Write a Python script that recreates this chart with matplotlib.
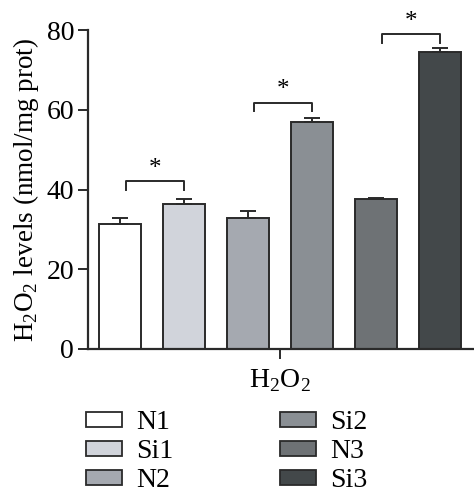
import matplotlib
matplotlib.use("Agg")
import matplotlib.pyplot as plt
from matplotlib.patches import Patch
import numpy as np

plt.rcParams['font.family'] = ['Liberation Serif', 'DejaVu Serif']
plt.rcParams['mathtext.fontset'] = 'custom'
plt.rcParams['mathtext.rm'] = 'Liberation Serif'

# datos
grupos = ['N1', 'Si1', 'N2', 'Si2', 'N3', 'Si3']
valores = [31.3, 36.3, 32.9, 56.9, 37.7, 74.4]
errores = [1.5, 1.4, 1.7, 1.1, 0.2, 1.2]
colores = ['#ffffff', '#d1d4db', '#a5a9b0', '#8a8f94', '#6e7275', '#43484a']
# pares con diferencia significativa (indices) y altura del corchete
pares = [(0, 1), (2, 3), (4, 5)]
altura_corchete = [42.1, 61.8, 79.0]

fig = plt.figure(figsize=(4.74, 4.96), dpi=100)
ax = fig.add_axes([88/474, 1 - 349/496, (474 - 88)/474, (349 - 30)/496])

x = np.arange(len(grupos))
ancho = 0.656
err_bajo = [0] * len(errores)
ax.bar(x, valores, width=ancho, color=colores, edgecolor='#2a2a2a', linewidth=1.4,
       yerr=[err_bajo, errores], capsize=6,
       error_kw={'elinewidth': 1.4, 'capthick': 1.4, 'ecolor': '#2a2a2a'})

# corchetes con asterisco
for (i, j), h in zip(pares, altura_corchete):
    x0 = x[i] + 0.1
    x1 = x[j]
    ax.plot([x0, x0, x1, x1], [h - 2.2, h, h, h - 2.2], color='#2a2a2a', lw=1.4)
    ax.text((x0 + x1) / 2, h + 0.3, '*', ha='center', va='bottom', fontsize=18)

ax.set_xlim(-0.5, 5.53)
ax.set_ylim(0, 80)
ax.set_yticks([0, 20, 40, 60, 80])
ax.set_xticks([x.mean()])
ax.set_xticklabels([r'H$_2$O$_2$'])
ax.tick_params(axis='both', direction='out', length=7, width=1.4, labelsize=20, color='#2a2a2a')
ax.tick_params(axis='y', pad=3)
ax.tick_params(axis='x', pad=6)
for lado in ['top', 'right']:
    ax.spines[lado].set_visible(False)
for lado in ['left', 'bottom']:
    ax.spines[lado].set_linewidth(1.6)
    ax.spines[lado].set_color('#2a2a2a')
ax.set_ylabel(r'H$_2$O$_2$ levels (nmol/mg prot)', fontsize=19.5, labelpad=4)

# leyenda en dos columnas
handles = [Patch(facecolor=c, edgecolor='#2a2a2a', linewidth=1.3, label=g)
           for c, g in zip(colores, grupos)]
kw = dict(frameon=False, fontsize=20, handlelength=1.3, handleheight=0.45,
          handletextpad=0.5, labelspacing=0.15, borderpad=0, borderaxespad=0, loc='upper left')
fig.legend(handles=handles[:3], bbox_to_anchor=(86/474, 1 - 410/496), **kw)
fig.legend(handles=handles[3:], bbox_to_anchor=(280/474, 1 - 410/496), **kw)

fig.savefig('out.png', dpi=100)
